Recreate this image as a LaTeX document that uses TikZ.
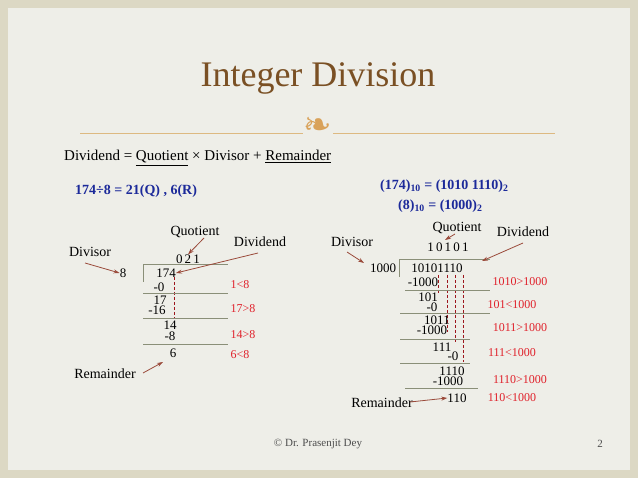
\documentclass[tikz,border=0pt]{standalone}
\usepackage{fontspec}
\setmainfont{Liberation Serif}
\newfontfamily\dejavu{DejaVu Sans}
\usetikzlibrary{arrows.meta}
\definecolor{bg}{HTML}{EEEEE8}
\definecolor{frame}{HTML}{DCD8C4}
\definecolor{titlec}{HTML}{7A5024}
\definecolor{orn}{HTML}{D9A25A}
\definecolor{lin}{HTML}{DDB981}
\definecolor{arr}{HTML}{9A4A3A}
\definecolor{redt}{HTML}{E0202A}
\definecolor{bluet}{HTML}{1C2A9A}
\definecolor{rule}{HTML}{8A8F78}
\tikzset{
 lbl/.style={font=\fontsize{14}{14}\selectfont, inner sep=0pt},
 num/.style={font=\fontsize{13}{12}\selectfont, inner sep=0pt},
 red/.style={font=\fontsize{12}{12}\selectfont, text=redt, inner sep=0pt},
 pt/.style={-{Stealth[length=6pt,width=4pt]}, draw=arr, thick},
 rl/.style={draw=rule, line width=1pt},
 dl/.style={draw=redt!70!black, densely dashed, line width=0.5pt}
}
\begin{document}
\begin{tikzpicture}[x=1pt,y=-1pt]
\fill[frame] (0,0) rectangle (638,478);
\fill[bg] (8,8) rectangle (630,470);
\useasboundingbox (0,0) rectangle (638,478);
\node[text=titlec, font=\fontsize{36}{36}\selectfont] (title) at (318,78) {Integer Division};
\coordinate (l1) at (80,134); \coordinate (l2) at (555,134);
\draw[lin, line width=1pt] (l1) -- (l2);
\node[text=orn, font=\dejavu\fontsize{34}{34}\selectfont, fill=bg, inner sep=1pt] (orn) at (318,127) {❧};
\node[lbl, anchor=west, font=\fontsize{15}{15}\selectfont] (eq) at (64,158) {Dividend = \underline{Quotient} × Divisor + \underline{Remainder}};
\node[anchor=west, text=bluet, font=\bfseries\fontsize{14}{14}\selectfont, inner sep=0pt] (ex) at (75,191) {174÷8 = 21(Q) , 6(R)};
\node[anchor=west, text=bluet, font=\bfseries\fontsize{14}{14}\selectfont, inner sep=0pt] (b1) at (380,186) {(174)\textsubscript{10} = (1010 1110)\textsubscript{2}};
\node[anchor=west, text=bluet, font=\bfseries\fontsize{14}{14}\selectfont, inner sep=0pt] (b2) at (398,206) {(8)\textsubscript{10} = (1000)\textsubscript{2}};

% left division
\node[lbl] (qL) at (195,232) {Quotient};
\node[lbl] (dL) at (260,242) {Dividend};
\node[lbl] (vL) at (90,252) {Divisor};
\node[num] (q021) at (188,259) {0\,2\,1};
\node[num] (d8) at (123,273) {8};
\node[num] (n174) at (166,273) {174};
\draw[rl] (143,282) -- (143,265) -- (228,265);
\coordinate (dLs) at (258,253);
\draw[pt] (dLs) -- (n174.east);
\coordinate (qLs) at (204,238);
\draw[pt] (qLs) -- (q021.north);
\coordinate (vLs) at (85,263);
\draw[pt] (vLs) -- (d8.west);
\draw[dl] (174,277) -- (174,318);
\node[num] (m0) at (159,287) {-0};
\node[red] (r1) at (240,285) {1<8};
\draw[rl] (143,294) -- (228,294);
\node[num] (n17) at (160,300) {17};
\node[num] (m16) at (157,310) {-16};
\node[red] (r2) at (243,309) {17>8};
\draw[rl] (143,319) -- (228,319);
\node[num] (n14) at (170,325) {14};
\node[num] (m8) at (170,336) {-8};
\node[red] (r3) at (243,335) {14>8};
\draw[rl] (143,345) -- (228,345);
\node[num] (n6) at (173,353) {6};
\node[red] (r4) at (240,355) {6<8};
\node[lbl] (remL) at (105,374) {Remainder};
\coordinate (remLs) at (143,373);
\draw[pt] (remLs) -- (163,362);

% right division
\node[lbl] (qR) at (457,228) {Quotient};
\node[lbl] (dR) at (523,232) {Dividend};
\node[lbl] (vR) at (352,242) {Divisor};
\node[num] (q10101) at (448,247) {1\,0\,1\,0\,1};
\coordinate (qRs) at (455,234);
\draw[pt] (qRs) -- (445,240);
\coordinate (vRs) at (347,252);
\coordinate (vRe) at (364,263);
\draw[pt] (vRs) -- (vRe);
\draw[rl] (399,277) -- (399,260) -- (490,260);
\node[num] (d1000) at (383,268) {1000};
\node[num] (big) at (437,268) {10101110};
\coordinate (dRs) at (523,243);
\draw[pt] (dRs) -- (482,261);
\draw[dl] (438,275) -- (438,293);
\draw[dl] (447,275) -- (447,332);
\draw[dl] (455,275) -- (455,342);
\draw[dl] (463,275) -- (463,362);
\node[num] (a1) at (423,282) {-1000};
\node[red] (ra1) at (520,282) {1010>1000};
\draw[rl] (405,291) -- (490,291);
\node[num] (a2) at (428,297) {101};
\node[num] (a3) at (432,307) {-0};
\node[red] (ra2) at (512,305) {101<1000};
\draw[rl] (400,314) -- (490,314);
\node[num] (a4) at (437,320) {1011};
\node[num] (a5) at (432,330) {-1000};
\node[red] (ra3) at (520,328) {1011>1000};
\draw[rl] (400,340) -- (470,340);
\node[num] (a6) at (442,347) {111};
\node[num] (a7) at (453,356) {-0};
\node[red] (ra4) at (512,353) {111<1000};
\draw[rl] (400,364) -- (470,364);
\node[num] (a8) at (452,371) {1110};
\node[num] (a9) at (448,381) {-1000};
\node[red] (ra5) at (520,380) {1110>1000};
\draw[rl] (405,389) -- (478,389);
\node[num] (a10) at (457,398) {110};
\node[red] (ra6) at (512,398) {110<1000};
\node[lbl] (remR) at (382,403) {Remainder};
\coordinate (remRs) at (410,402);
\draw[pt] (remRs) -- (a10.west);

\node[text=black!70, font=\fontsize{11}{11}\selectfont] (foot) at (318,444) {© Dr. Prasenjit Dey};
\node[text=black!70, font=\fontsize{11}{11}\selectfont] (pg) at (600,444) {2};
\end{tikzpicture}
\end{document}
